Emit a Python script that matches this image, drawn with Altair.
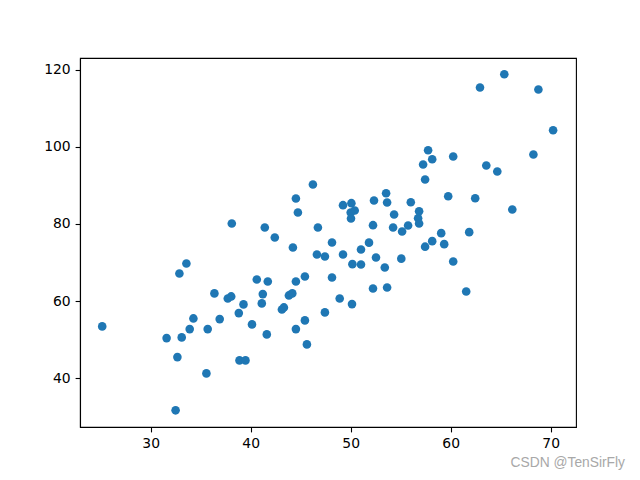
import altair as alt
import pandas as pd

x_vals = [25.15, 31.59, 32.49, 32.67, 32.87, 33.10, 33.57, 33.90, 34.27, 35.57,
          35.70, 36.37, 36.90, 37.71, 38.05, 38.11, 38.81, 38.88, 39.48, 39.28,
          40.13, 40.61, 41.11, 41.21, 41.41, 41.61, 41.71, 42.41, 43.12, 43.32,
          43.82, 44.16, 44.22, 44.52, 44.72, 44.52, 44.52, 45.42, 45.42, 45.62,
          46.22, 46.62, 46.72, 47.42, 47.42, 48.13, 48.13, 48.90, 49.23, 49.23,
          50.07, 50.40, 50.00, 50.03, 50.17, 50.13, 51.03, 51.03, 51.83, 52.23,
          52.33, 52.23, 52.53, 53.41, 53.54, 53.64, 53.64, 54.34, 54.24, 55.06,
          55.14, 55.74, 56.01, 56.74, 56.84, 56.84, 57.24, 57.44, 57.44, 57.74,
          58.15, 58.15, 59.05, 59.35, 59.75, 60.25, 60.25, 61.55, 61.85, 62.45,
          62.93, 63.56, 64.66, 65.36, 66.16, 68.27, 68.77, 70.24]
y_vals = [53.46, 50.43, 31.72, 45.51, 67.18, 50.61, 69.77, 52.76, 55.53, 41.29,
          52.76, 62.01, 55.35, 60.71, 61.23, 80.13, 56.91, 44.66, 44.66, 59.16,
          53.98, 65.63, 59.42, 61.83, 79.09, 51.39, 65.11, 76.50, 57.86, 58.38,
          61.49, 62.01, 73.92, 86.60, 82.98, 65.11, 52.76, 66.41, 55.02, 48.80,
          90.23, 72.10, 79.09, 71.59, 57.09, 75.21, 66.15, 60.71, 84.87, 72.10,
          85.39, 83.50, 82.98, 81.42, 69.59, 59.24, 69.51, 73.40, 75.16, 79.69,
          86.08, 63.30, 71.33, 68.74, 87.97, 85.57, 63.56, 82.46, 79.09, 71.02,
          78.06, 79.61, 85.64, 81.50, 83.31, 80.13, 95.40, 91.52, 74.12, 99.11,
          96.78, 75.55, 77.62, 74.77, 87.20, 97.48, 70.29, 62.52, 77.88, 86.68,
          115.34, 95.15, 93.59, 118.78, 83.75, 97.99, 114.82, 104.28]

x_ticks = [30, 40, 50, 60, 70]
y_ticks = [40, 60, 80, 100, 120]
watermark = ["CSDN @TenSirFly"]

df = pd.DataFrame({"x": x_vals, "y": y_vals})
wm = pd.DataFrame({"t": watermark})

axis_common = dict(
    grid=False,
    domainColor="black",
    domainWidth=1.1,
    tickColor="black",
    tickWidth=1.1,
    tickSize=4.9,
    labelPadding=4.9,
    labelFont="DejaVu Sans",
    labelFontSize=13.9,
    labelColor="black",
    title=None,
)

points = alt.Chart(df).mark_circle(
    size=74, color="#1f77b4", opacity=1
).encode(
    x=alt.X("x:Q", scale=alt.Scale(domain=[22.93, 72.53], nice=False, zero=False),
            axis=alt.Axis(values=x_ticks, **axis_common)),
    y=alt.Y("y:Q", scale=alt.Scale(domain=[27.4, 123.0], nice=False, zero=False),
            axis=alt.Axis(values=y_ticks, **axis_common)),
)

text = alt.Chart(wm).mark_text(
    align="right", baseline="middle", font="Liberation Sans",
    fontSize=13.8, color="#a8a8a8", clip=False
).encode(
    text="t:N",
    x=alt.value(545),
    y=alt.value(405),
)

chart = alt.layer(points, text).properties(
    width=496, height=369,
    background="white",
    autosize=alt.AutoSizeParams(type="none"),
    padding={"left": 72, "top": 50, "right": 56, "bottom": 45},
).configure_view(
    stroke="black", strokeWidth=1.1
)

chart.save("out.html", embed_options={"renderer": "svg", "actions": False})
